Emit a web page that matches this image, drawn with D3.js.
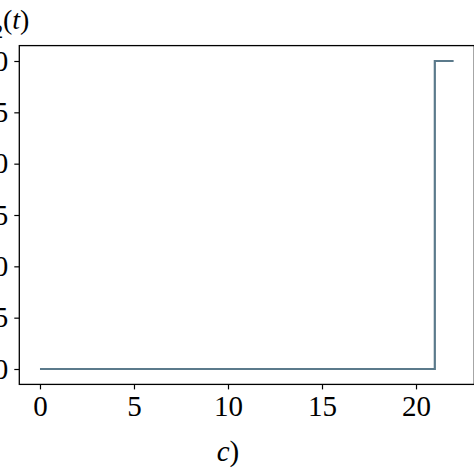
<!DOCTYPE html>
<html>
<head>
<meta charset="utf-8">
<script src="https://cdn.jsdelivr.net/npm/d3@7"></script>
<style>
  body { margin: 0; background: #fff; }
  svg { display: block; }
  text { font-family: "Liberation Serif", "Times New Roman", serif; fill: #000; }
</style>
</head>
<body>
<svg id="canvas" width="474" height="474"></svg>
<script>
// data
const timeSteps = [0, 1, 2, 3, 4, 5, 6, 7, 8, 9, 10, 11, 12, 13, 14, 15, 16, 17, 18, 19, 20, 21, 22]
const stateValues = [0, 0, 0, 0, 0, 0, 0, 0, 0, 0, 0, 0, 0, 0, 0, 0, 0, 0, 0, 0, 0, 3, 3]
const xTicks = [0, 5, 10, 15, 20]
const yTicks = [0, 0.5, 1, 1.5, 2, 2.5, 3]

const width = 474
const height = 474
const margin = { left: 19.3, right: -0.3, top: 45.6, bottom: 89.6 }

const canvas = d3.select('#canvas')

const xScale = d3.scaleLinear()
  .domain([-1.1, 23.1])
  .range([margin.left, width - margin.right])

const yScale = d3.scaleLinear()
  .domain([-0.15, 3.15])
  .range([height - margin.bottom, margin.top])

// the step line
const points = timeSteps.map((t, i) => [t, stateValues[i]])
const line = d3.line()
  .x(d => xScale(d[0]))
  .y(d => yScale(d[1]))
  .curve(d3.curveStepAfter)

canvas.append('path')
  .datum(points)
  .attr('d', line)
  .attr('fill', 'none')
  .attr('stroke', '#5b7a8b')
  .attr('stroke-width', 2.2)

// axes
const xAxis = d3.axisBottom(xScale)
  .tickValues(xTicks)
  .tickFormat(d3.format('d'))
  .tickSizeInner(5)
  .tickSizeOuter(0)
  .tickPadding(6)

const yAxis = d3.axisLeft(yScale)
  .tickValues(yTicks)
  .tickFormat(d3.format('.1f'))
  .tickSizeInner(5)
  .tickSizeOuter(0)
  .tickPadding(6)

const gx = canvas.append('g')
  .attr('transform', `translate(0, ${height - margin.bottom})`)
  .call(xAxis)
gx.select('.domain').remove()
gx.selectAll('text')
  .attr('font-size', 29)
  .attr('font-family', '"Liberation Serif", serif')
  .attr('fill', '#000')

const gy = canvas.append('g')
  .attr('transform', `translate(${margin.left}, 0)`)
  .call(yAxis)
gy.select('.domain').remove()
gy.selectAll('text')
  .attr('font-size', 29)
  .attr('font-family', '"Liberation Serif", serif')
  .attr('fill', '#000')
  .attr('x', -11)

canvas.selectAll('.tick line')
  .attr('stroke', '#000')
  .attr('stroke-width', 1.2)

// frame
canvas.append('rect')
  .attr('x', xScale.range()[0])
  .attr('y', yScale.range()[1])
  .attr('width', xScale.range()[1] - xScale.range()[0])
  .attr('height', yScale.range()[0] - yScale.range()[1])
  .attr('fill', 'none')
  .attr('stroke', '#000')
  .attr('stroke-width', 1.3)

// y label, mostly cut off on the left
canvas.append('text')
  .attr('x', 3)
  .attr('y', 29)
  .attr('font-size', 28)
  .attr('text-anchor', 'end')
  .html('<tspan font-style="italic">c</tspan><tspan font-size="19" dy="9">2</tspan>')

canvas.append('text')
  .attr('x', 3)
  .attr('y', 29)
  .attr('font-size', 28)
  .html('(<tspan font-style="italic">t</tspan>)')

// panel label
canvas.append('text')
  .attr('x', xScale(10))
  .attr('y', 461)
  .attr('font-size', 29)
  .attr('text-anchor', 'middle')
  .html('<tspan font-style="italic">c</tspan>)')
</script>
</body>
</html>
